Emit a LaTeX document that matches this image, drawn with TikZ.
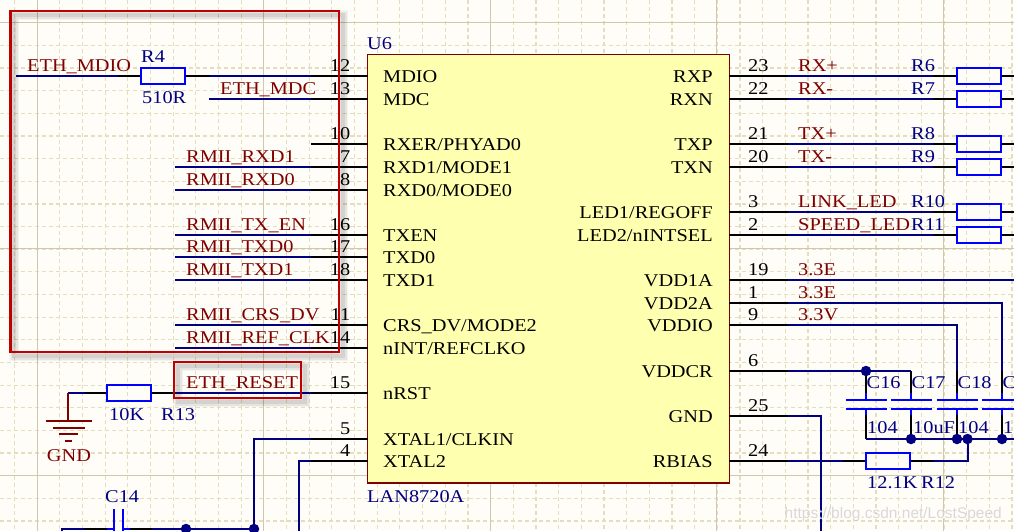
\documentclass[tikz,border=0pt]{standalone}
\usepackage{fontspec}
\setmainfont[FakeStretch=1.13]{Liberation Serif}
\newfontfamily\wmfont{Liberation Sans}
\definecolor{bgc}{HTML}{FFFDF8}
\definecolor{majorc}{HTML}{CFC8AE}
\definecolor{minorc}{HTML}{E4DDBF}
\definecolor{wirec}{HTML}{000080}
\definecolor{rblue}{HTML}{0000FF}
\definecolor{netc}{HTML}{800000}
\definecolor{desc}{HTML}{000080}
\definecolor{chipc}{HTML}{FFFFB0}
\definecolor{redbox}{HTML}{C00000}
\tikzset{
  x=1pt,y=-1pt,
  txt/.style={inner sep=0pt,font=\fontsize{18}{20}\selectfont},
  netlab/.style={txt,anchor=base west,text=netc},
  deslab/.style={txt,anchor=base west,text=desc},
  pinname/.style={txt,anchor=base west,text=black},
  pinnameR/.style={txt,anchor=base east,text=black},
  pinnum/.style={txt,anchor=base east,text=black},
  pinnumR/.style={txt,anchor=base west,text=black},
  wire/.style={draw=wirec,line width=2pt},
  pinline/.style={draw=black,line width=2pt},
  gndline/.style={draw=netc,line width=2pt},
  resbox/.style={draw=rblue,line width=2pt,minimum width=44pt,minimum height=16pt,inner sep=0pt},
  plate/.style={draw=rblue,line width=2pt},
  capstub/.style={draw=rblue,line width=2pt},
  dot/.style={circle,fill=wirec,minimum size=10.5pt,inner sep=0pt},
  majorgrid/.style={draw=majorc,line width=1.2pt},
  minorgrid/.style={draw=minorc,line width=1.2pt,dash pattern=on 4pt off 3pt},
  note/.style={draw=redbox,line width=2.4pt},
  noteshade/.style={draw=black,opacity=#1},
}
\newcommand{\lpin}[4]{%
  \coordinate (c#1) at (368,#2);
  \coordinate (e#1) at (311,#2);
  \draw[pinline] (c#1) -- (e#1);
  \node[pinnum] (n#1) at (350.5,#2-4.5) {#3};
  \node[pinname] (t#1) at (383,#2+6.5) {#4};
}
\newcommand{\rpin}[4]{%
  \coordinate (c#1) at (729,#2);
  \coordinate (e#1) at (788,#2);
  \draw[pinline] (c#1) -- (e#1);
  \node[pinnumR] (n#1) at (748,#2-4.5) {#3};
  \node[pinnameR] (t#1) at (713,#2+6.5) {#4};
}
\newcommand{\netwire}[4]{%
  \coordinate (w#1) at (175,#2);
  \draw[wire] (w#1) -- (e#1);
  \node[netlab] (l#1) at (186,#2-4.5) {#3};
}
\newcommand{\outres}[5]{%
  \node[resbox] (#1) at (979,#3) {};
  \coordinate (x#1) at (1014,#3);
  \draw[wire] (e#2) -- (933,#3);
  \draw[pinline] (933,#3) -- (#1.west);
  \draw[pinline] (#1.east) -- (x#1);
  \node[netlab] (l#1) at (798,#3-4.5) {#4};
  \node[deslab] (d#1) at (911,#3-4.5) {#5};
}
\newcommand{\capacitor}[5]{%
  \coordinate (tp#1) at (#2,371);
  \coordinate (a#1) at (#2,393);
  \coordinate (b#1) at (#2,400);
  \coordinate (g#1) at (#2,409);
  \coordinate (h#1) at (#2,415);
  \coordinate (bt#1) at (#2,439);
  \draw[pinline] (tp#1) -- (a#1);
  \draw[capstub] (a#1) -- (b#1);
  \draw[plate] (#2-20.5,400) -- (#2+20.5,400);
  \draw[plate] (#2-20.5,409) -- (#2+20.5,409);
  \draw[capstub] (g#1) -- (h#1);
  \draw[pinline] (h#1) -- (bt#1);
  \node[deslab] (d#1) at (#2+0.5,388) {#3};
  \node[deslab] (v#1) at (#2+#4,433) {#5};
}
\begin{document}
\begin{tikzpicture}
\useasboundingbox (0,0) rectangle (1014,531);
\clip (0,0) rectangle (1014,531);
\fill[bgc] (0,0) rectangle (1014,531);
% grid
\foreach \i in {0,...,44} {\draw[minorgrid] ({14.5+22.67*\i},0) -- ({14.5+22.67*\i},531);}
\foreach \i in {0,...,23} {\draw[minorgrid] (0,{22.7+22.65*\i}) -- (1014,{22.7+22.65*\i});}
\foreach \xx in {37.3,263.6,490.3,716.8,943.2} {\draw[majorgrid] (\xx,0) -- (\xx,531);}
\foreach \yy in {22.7,248.3,475.6} {\draw[majorgrid] (0,\yy) -- (1014,\yy);}
% chip
\node[draw=netc,fill=chipc,line width=1.2pt,minimum width=362pt,minimum height=428.5pt,inner sep=0pt] (U) at (548.5,268.7) {};
\node[deslab] (U6) at (367,49) {U6};
\node[deslab] (LAN) at (367,502) {LAN8720A};
% left pins
\lpin{12}{75.5}{12}{MDIO}
\lpin{13}{99}{13}{MDC}
\lpin{10}{144}{10}{RXER/PHYAD0}
\lpin{7}{167}{7}{RXD1/MODE1}
\lpin{8}{190}{8}{RXD0/MODE0}
\lpin{16}{235}{16}{TXEN}
\lpin{17}{257}{17}{TXD0}
\lpin{18}{280}{18}{TXD1}
\lpin{11}{325}{11}{CRS\_DV/MODE2}
\lpin{14}{348}{14}{nINT/REFCLKO}
\lpin{15}{393}{15}{nRST}
\lpin{5}{439}{5}{XTAL1/CLKIN}
\lpin{4}{461}{4}{XTAL2}
% right pins
\rpin{23}{75.5}{23}{RXP}
\rpin{22}{99}{22}{RXN}
\rpin{21}{144}{21}{TXP}
\rpin{20}{167}{20}{TXN}
\rpin{3}{212}{3}{LED1/REGOFF}
\rpin{2}{235}{2}{LED2/nINTSEL}
\rpin{19}{280}{19}{VDD1A}
\rpin{1}{303}{1}{VDD2A}
\rpin{9}{325}{9}{VDDIO}
\rpin{6}{371}{6}{VDDCR}
\rpin{25}{416}{25}{GND}
\rpin{24}{461}{24}{RBIAS}
% R4 and ETH nets
\node[resbox] (R4) at (163,75.5) {};
\coordinate (mdioL) at (16,75.5);
\coordinate (mdioK) at (118,75.5);
\coordinate (mdioJ) at (210,75.5);
\draw[wire] (mdioL) -- (mdioK);
\draw[pinline] (mdioK) -- (R4.west);
\draw[pinline] (R4.east) -- (mdioJ);
\draw[wire] (mdioJ) -- (e12);
\node[netlab] (lmdio) at (27,71) {ETH\_MDIO};
\node[deslab] (dR4) at (141,62) {R4};
\node[deslab] (vR4) at (142,103.5) {510R};
\coordinate (mdcL) at (209,99);
\draw[wire] (mdcL) -- (e13);
\node[netlab] (lmdc) at (220,94.5) {ETH\_MDC};
% RMII
\netwire{7}{167}{RMII\_RXD1}{}
\netwire{8}{190}{RMII\_RXD0}{}
\netwire{16}{235}{RMII\_TX\_EN}{}
\netwire{17}{257}{RMII\_TXD0}{}
\netwire{18}{280}{RMII\_TXD1}{}
\netwire{11}{325}{RMII\_CRS\_DV}{}
\netwire{14}{348}{RMII\_REF\_CLK}{}
% reset
\netwire{15}{393}{ETH\_RESET}{}
\node[resbox] (R13) at (129,393) {};
\draw[pinline] (R13.east) -- (w15);
\coordinate (rstK) at (85,393);
\coordinate (gndC) at (68,393);
\coordinate (gndT) at (68,421);
\draw[pinline] (R13.west) -- (rstK);
\draw[wire] (rstK) -- (gndC);
\draw[gndline] (gndC) -- (gndT);
\draw[gndline] (46,421) -- (92,421);
\draw[gndline] (53,427.5) -- (85,427.5);
\draw[gndline] (59,434) -- (78,434);
\draw[gndline] (65,441) -- (72,441);
\node[txt,anchor=base,text=netc] (gndL) at (69,461) {GND};
\node[deslab] (vR13) at (109,420.5) {10K};
\node[deslab] (dR13) at (161,420.5) {R13};
% crystal nets
\node[dot] (j1) at (254,529) {};
\node[dot] (j2) at (186,529) {};
\coordinate (x4) at (299,531);
\draw[wire] (e5) -- (254,439) -- (j1);
\draw[wire] (e4) -- (299,461) -- (x4);
\draw[wire] (62,531) -- (62,529) -- (84,529);
\draw[pinline] (84,529) -- (107,529);
\draw[capstub] (107,529) -- (114,529);
\draw[capstub] (123,529) -- (130,529);
\draw[pinline] (130,529) -- (152,529);
\draw[wire] (152,529) -- (j2);
\draw[wire] (j2) -- (j1);
\draw[capstub] (114,509) -- (114,531);
\draw[capstub] (123,509) -- (123,531);
\node[deslab] (dC14) at (105,502) {C14};
% output resistors
\outres{R6}{23}{75.5}{RX+}{R6}
\outres{R7}{22}{99}{RX-}{R7}
\outres{R8}{21}{144}{TX+}{R8}
\outres{R9}{20}{167}{TX-}{R9}
\outres{R10}{3}{212}{LINK\_LED}{R10}
\outres{R11}{2}{235}{SPEED\_LED}{R11}
% power
\coordinate (x19) at (1014,280);
\draw[wire] (e19) -- (x19);
\node[netlab] (l19) at (798,275) {3.3E};
\node[netlab] (l1) at (798,298) {3.3E};
\node[netlab] (l9) at (798,320.5) {3.3V};
% caps
\capacitor{16}{866}{C16}{1}{104}
\capacitor{17}{911}{C17}{2}{10uF}
\capacitor{18}{957}{C18}{1}{104}
\capacitor{19}{1002}{C19}{1}{104}
\draw[wire] (e1) -- (1002,303) -- (tp19);
\draw[wire] (e9) -- (957,325) -- (tp18);
\node[dot] (j6) at (tp16) {};
\draw[wire] (e6) -- (j6);
\draw[wire] (j6) -- (911,371) -- (tp17);
\coordinate (gr) at (1014,439);
\draw[wire] (bt16) -- (gr);
\node[dot] (j7) at (bt17) {};
\node[dot] (j8) at (bt18) {};
\node[dot] (j9) at (967.5,439) {};
\node[dot] (j10) at (bt19) {};
% GND right
\coordinate (x25) at (821,531);
\draw[wire] (e25) -- (821,416) -- (x25);
% R12
\node[resbox] (R12) at (888,461) {};
\coordinate (r12a) at (843,461);
\coordinate (r12b) at (933,461);
\draw[wire] (e24) -- (r12a);
\draw[pinline] (r12a) -- (R12.west);
\draw[pinline] (R12.east) -- (r12b);
\draw[wire] (r12b) -- (967.5,461) -- (j9);
\node[deslab] (vR12) at (867,488) {12.1K};
\node[deslab] (dR12) at (921,488) {R12};
% red annotation boxes with shadow
\foreach \w/\o in {10/.04,7/.06,4/.08} {
  \draw[noteshade=\o,line width=\w pt] (14,15) rectangle (343,356);
  \draw[noteshade=\o,line width=\w pt] (178,366) rectangle (305,402);
}
\node[draw=none,inner sep=0pt,anchor=base west,text=white,font=\wmfont\fontsize{15.5}{18}\selectfont] (wm2) at (785,519) {https://blog.csdn.net/LostSpeed};
\node[draw=none,inner sep=0pt,anchor=base west,text=black!25,opacity=.6,font=\wmfont\fontsize{15.5}{18}\selectfont] (wm) at (784.5,518.5) {https://blog.csdn.net/LostSpeed};
\draw[note] (10.5,11) rectangle (339,352);
\draw[note] (174,362) rectangle (301,398);
\end{tikzpicture}
\end{document}
